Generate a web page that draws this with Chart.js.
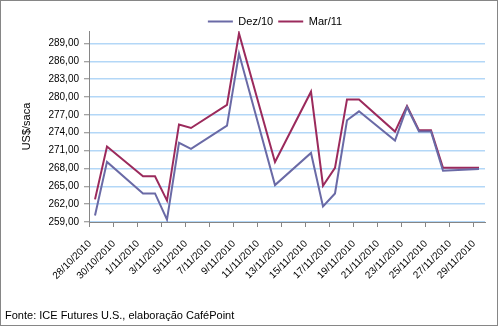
<!DOCTYPE html>
<html>
<head>
<meta charset="utf-8">
<script src="https://cdn.jsdelivr.net/npm/chart.js@4.4.1/dist/chart.umd.min.js"></script>
<style>
  html, body { margin: 0; padding: 0; background: #fff; }
  canvas { display: block; }
</style>
</head>
<body>
<canvas id="grafico" width="499" height="328"></canvas>
<script>
// todos os dias do eixo (um slot por dia)
const dias = [
  '28/10/2010', '29/10/2010', '30/10/2010', '31/10/2010', '1/11/2010', '2/11/2010',
  '3/11/2010', '4/11/2010', '5/11/2010', '6/11/2010', '7/11/2010', '8/11/2010',
  '9/11/2010', '10/11/2010', '11/11/2010', '12/11/2010', '13/11/2010', '14/11/2010',
  '15/11/2010', '16/11/2010', '17/11/2010', '18/11/2010', '19/11/2010', '20/11/2010',
  '21/11/2010', '22/11/2010', '23/11/2010', '24/11/2010', '25/11/2010', '26/11/2010',
  '27/11/2010', '28/11/2010', '29/11/2010'
];

// dias com cotação
const pregoes = [
  '28/10/2010', '29/10/2010', '1/11/2010', '2/11/2010', '3/11/2010', '4/11/2010',
  '5/11/2010', '8/11/2010', '9/11/2010', '12/11/2010', '15/11/2010', '16/11/2010',
  '17/11/2010', '18/11/2010', '19/11/2010', '22/11/2010', '23/11/2010', '24/11/2010',
  '25/11/2010', '26/11/2010', '29/11/2010'
];

const dez10 = [
  260.1, 269.1, 263.8, 263.8, 259.4, 272.3, 271.3, 275.2, 287.3, 265.2, 270.6,
  261.6, 263.8, 276.1, 277.6, 272.7, 278.3, 274.2, 274.2, 267.6, 267.9
];

const mar11 = [
  262.8, 271.7, 266.7, 266.7, 262.6, 275.4, 274.8, 278.7, 290.7, 269.1, 280.9,
  265.1, 268.1, 279.6, 279.6, 274.2, 278.5, 274.4, 274.4, 268.1, 268.1
];

const yTicks = [259, 262, 265, 268, 271, 274, 277, 280, 283, 286, 289];

const fonte = 'Liberation Sans, Arial, sans-serif';
const cinza = '#868686';

const serie = vals => pregoes.map((d, i) => ({ x: d, y: vals[i] }));

// fundo branco e moldura
const moldura = {
  id: 'moldura',
  beforeDraw(chart) {
    const ctx = chart.ctx;
    ctx.save();
    ctx.fillStyle = '#fff';
    ctx.fillRect(0, 0, chart.width, chart.height);
    ctx.strokeStyle = cinza;
    ctx.lineWidth = 1;
    ctx.strokeRect(0.5, 0.5, 497, 325);
    ctx.restore();
  }
};

// legenda um pouco para a direita e para baixo
const ajusteLegenda = {
  id: 'ajusteLegenda',
  afterLayout(chart) {
    const l = chart.legend;
    l.left += 30; l.right += 30;
    l.top += 6; l.bottom += 6;
  }
};

new Chart(document.getElementById('grafico'), {
  type: 'line',
  data: {
    datasets: [
      {
        label: 'Dez/10',
        data: serie(dez10),
        borderColor: '#6a6aa6',
        backgroundColor: '#6a6aa6',
        borderWidth: 2,
        pointRadius: 0,
        tension: 0
      },
      {
        label: 'Mar/11',
        data: serie(mar11),
        borderColor: '#9b2a5c',
        backgroundColor: '#9b2a5c',
        borderWidth: 2,
        pointRadius: 0,
        tension: 0
      }
    ]
  },
  options: {
    responsive: false,
    animation: false,
    layout: { padding: { top: 5, right: 14, bottom: 2, left: 5 } },
    plugins: {
      legend: {
        position: 'top',
        labels: {
          usePointStyle: true,
          pointStyle: 'line',
          pointStyleWidth: 25,
          padding: 5,
          color: '#000',
          font: { family: fonte, size: 11 }
        }
      },
      title: {
        display: true,
        position: 'bottom',
        align: 'start',
        text: 'Fonte: ICE Futures U.S., elaboração CaféPoint',
        color: '#000',
        font: { family: fonte, size: 11, weight: 'normal' },
        padding: { top: 0, bottom: 3 }
      },
      tooltip: { enabled: false }
    },
    scales: {
      x: {
        type: 'category',
        labels: dias,
        offset: true,
        grid: {
          offset: true,
          drawOnChartArea: false,
          tickLength: 5,
          color: cinza,
          tickColor: cinza,
          lineWidth: c => (c.index % 2 === 0 ? 1 : 0),
          tickWidth: c => (c.index % 2 === 0 ? 1 : 0)
        },
        border: { color: cinza, width: 1 },
        ticks: {
          autoSkip: false,
          minRotation: 45,
          maxRotation: 45,
          padding: 11,
          labelOffset: -5,
          color: '#000',
          font: { family: fonte, size: 10 },
          callback: (v, i) => (i % 2 === 0 ? dias[i] : '')
        },
        afterFit: s => { s.height = 87.8; }
      },
      y: {
        min: 259,
        max: 291.1,
        afterBuildTicks: s => { s.ticks = yTicks.map(v => ({ value: v })); },
        grid: {
          color: '#b3d7f7',
          lineWidth: 1.5,
          tickColor: cinza,
          tickWidth: 1,
          tickLength: 5
        },
        border: { color: cinza, width: 1 },
        ticks: {
          padding: 5,
          color: '#000',
          font: { family: fonte, size: 10 },
          callback: v => v.toFixed(2).replace('.', ',')
        },
        title: {
          display: true,
          text: 'US$/saca',
          color: '#000',
          font: { family: fonte, size: 11 },
          padding: { top: 15, bottom: 0 }
        },
        afterFit: s => { s.width = 84; }
      }
    }
  },
  plugins: [moldura, ajusteLegenda]
});
</script>
</body>
</html>
